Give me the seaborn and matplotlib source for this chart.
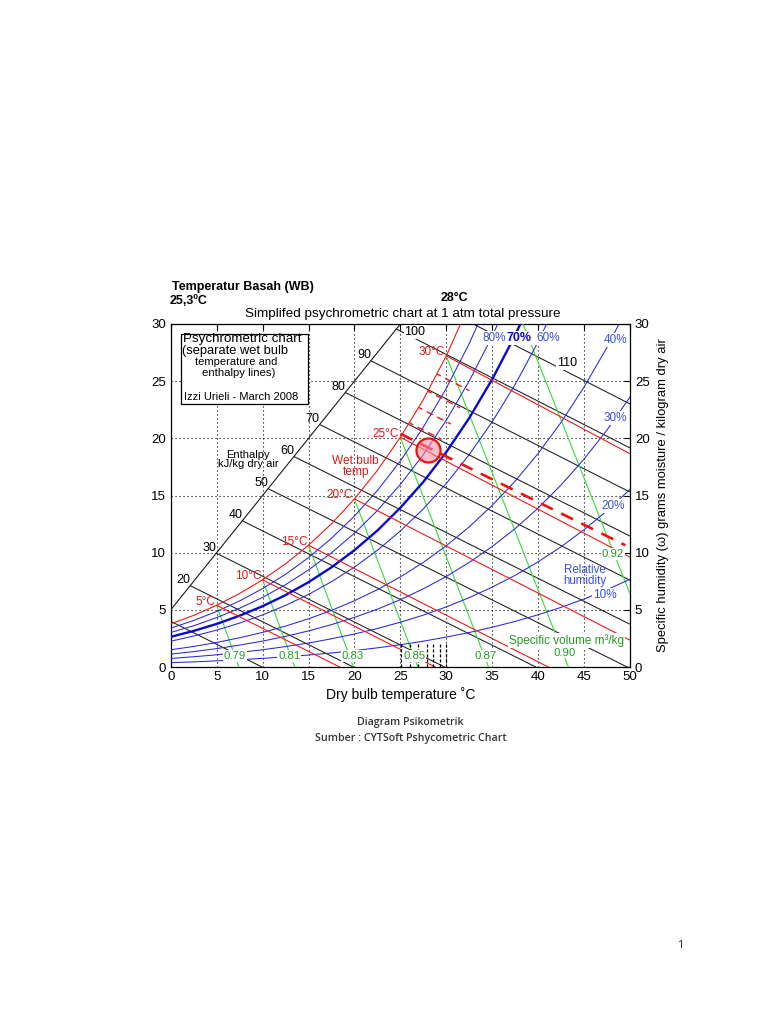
import matplotlib
matplotlib.use("Agg")
import matplotlib.pyplot as plt
import seaborn as sns
from matplotlib.patches import Rectangle

# ---------------- data ----------------
# dry-bulb grid (deg C) used for the saturation / relative-humidity curves
T_GRID = [0, 2.5, 5, 7.5, 10, 12.5, 15, 17.5, 20, 22.5, 25,
          27.5, 30, 32.5, 35, 37.5, 40, 42.5, 45, 47.5, 50]

# saturation curve (g/kg) on T_GRID, then reaches the top (30 g/kg) at SAT_TOP_T
SAT_W = [3.78, 4.52, 5.40, 6.43, 7.63, 9.03, 10.65, 12.53, 14.70, 17.20, 20.09, 23.39, 27.21]
SAT_TOP_T = 31.55

# relative humidity curves (g/kg) on T_GRID
RH_LEVELS = [90, 80, 70, 60, 40, 30, 20, 10]
RH90_W = [3.40, 4.07, 4.86, 5.78, 6.86, 8.11, 9.57, 11.26, 13.20, 15.44, 18.02, 20.97, 24.38, 28.29]
RH80_W = [3.02, 3.61, 4.32, 5.14, 6.09, 7.20, 8.49, 9.99, 11.70, 13.69, 15.97, 18.57, 21.58, 25.02, 28.93]
RH70_W = [2.64, 3.16, 3.77, 4.49, 5.32, 6.29, 7.42, 8.72, 10.22, 11.94, 13.93, 16.19, 18.80, 21.78,
          25.17, 29.02]
RH60_W = [2.26, 2.71, 3.23, 3.84, 4.56, 5.39, 6.35, 7.46, 8.74, 10.21, 11.90, 13.83, 16.05, 18.58,
          21.45, 24.71, 28.44]
RH40_W = [1.51, 1.80, 2.15, 2.56, 3.03, 3.58, 4.22, 4.95, 5.80, 6.77, 7.88, 9.15, 10.61, 12.26,
          14.14, 16.26, 18.68, 21.40, 24.49, 27.96]
RH30_W = [1.13, 1.35, 1.61, 1.92, 2.27, 2.68, 3.16, 3.71, 4.34, 5.06, 5.89, 6.84, 7.92, 9.15,
          10.54, 12.11, 13.90, 15.92, 18.19, 20.73, 23.61]
RH20_W = [0.75, 0.90, 1.07, 1.28, 1.51, 1.79, 2.10, 2.47, 2.89, 3.37, 3.92, 4.54, 5.26, 6.07,
          6.99, 8.02, 9.20, 10.52, 12.01, 13.67, 15.54]
RH10_W = [0.38, 0.45, 0.54, 0.64, 0.76, 0.89, 1.05, 1.23, 1.44, 1.68, 1.95, 2.26, 2.62, 3.02,
          3.48, 3.99, 4.57, 5.22, 5.95, 6.76, 7.68]
RH_TOP_T = [33.45, 35.6, 38.06, 40.92, 48.8, None, None, None]

# enthalpy lines (kJ/kg dry air): start / end points
ENTH_H = [10, 20, 30, 40, 50, 60, 70, 80, 90, 100, 110]
ENTH_T0 = [0.0, 2.12, 4.96, 7.79, 10.60, 13.41, 16.21, 19.01, 21.79, 24.56, 32.93]
ENTH_W0 = [4.00, 7.12, 9.96, 12.79, 15.60, 18.41, 21.21, 24.01, 26.79, 29.56, 30.0]
ENTH_T1 = [9.94, 19.88, 29.82, 39.76, 49.70, 50, 50, 50, 50, 50, 50]
ENTH_W1 = [0, 0, 0, 0, 0, 3.74, 7.59, 11.45, 15.30, 19.16, 23.01]
# enthalpy scale line
ENTH_SCALE_T = [0, 25]
ENTH_SCALE_W = [5, 30]

# wet bulb lines (deg C)
WB_T = [5, 10, 15, 20, 25, 30]
WB_W0 = [5.40, 7.63, 10.65, 14.70, 20.09, 27.21]
WB_T1 = [18.4, 28.8, 41.1, 50, 50, 50]
WB_W1 = [0, 0, 0, 2.35, 9.61, 18.65]
# short minor wet bulb lines between 25 and 30 deg C
WBMIN_T0 = [26, 27, 28, 29]
WBMIN_W0 = [21.35, 22.70, 24.12, 25.62]
WBMIN_T1 = [29.5, 30.5, 31.5, 32.5]
WBMIN_W1 = [19.90, 21.25, 22.67, 24.17]

# specific volume lines (m3/kg)
VOL_LABELS = ["0.79", "0.81", "0.83", "0.85", "0.87", "0.90", "0.92"]
VOL_T0 = [5, 10, 15, 20, 25, 30, 38.35]
VOL_W0 = [5.40, 7.63, 10.65, 14.70, 20.09, 27.21, 30.0]
VOL_T1 = [7.42, 13.5, 19.9, 26.9, 34.6, 43.3, 50]
VOL_W1 = [0, 0, 0, 0, 0, 0, 6.4]

# annotations added on the chart (state point 28 C dry bulb, 25.3 C wet bulb)
MARK_DB = 28.0
MARK_W = 19.0
MARK_WB_T = [25.0, 49.5]
MARK_WB_W = [20.4, 10.65]
DB_TICK_T = [25.1, 26.0, 26.9, 27.9, 28.6, 29.3, 30.0]
DB_TICK_H = 2.0

X_TICKS = [0, 5, 10, 15, 20, 25, 30, 35, 40, 45, 50]
Y_TICKS = [0, 5, 10, 15, 20, 25, 30]

# ---------------- style ----------------
sns.set_theme(style="white", rc={
    "axes.edgecolor": "black", "text.color": "black", "axes.labelcolor": "black",
    "xtick.color": "black", "ytick.color": "black",
})
plt.rcParams["font.family"] = ["Liberation Sans", "DejaVu Sans"]

BLUE = "#2626dc"
BLUE_THICK = "#0808d6"
RED = "#f01818"
GREEN = "#40dc40"
BLACK = "#1a1a1a"
BLUE_TXT = "#3a4ee6"
GREEN_TXT = "#239a23"
RED_TXT = "#e01818"

fig = plt.figure(figsize=(7.68, 10.24), dpi=100)
ax = fig.add_axes([0.2223, 0.3486, 0.598, 0.3350])


def line(xs, ys, **kw):
    sns.lineplot(x=list(xs), y=list(ys), ax=ax, sort=False, estimator=None,
                 legend=False, **kw)


white_box = dict(boxstyle="square,pad=0.08", fc="white", ec="none")

# enthalpy scale + enthalpy lines
line(ENTH_SCALE_T, ENTH_SCALE_W, color=BLACK, linewidth=0.8, zorder=3)
for h, t0, w0, t1, w1 in zip(ENTH_H, ENTH_T0, ENTH_W0, ENTH_T1, ENTH_W1):
    line([t0, t1], [w0, w1], color=BLACK, linewidth=0.75, zorder=3)
    if 20 <= h <= 90:
        ax.annotate(str(h), (t0, w0), xytext=(-5, 4), textcoords="offset points",
                    ha="center", va="center", fontsize=9, color="black", zorder=6)
ax.text(26.6, 29.3, "100", ha="center", va="center", fontsize=9, bbox=white_box, zorder=6)
ax.text(43.2, 26.6, "110", ha="center", va="center", fontsize=9, bbox=white_box, zorder=6)
ax.text(8.4, 18.15, "Enthalpy\nkJ/kg dry air", ha="center", va="center", fontsize=8.0,
        linespacing=0.95, zorder=6)

# relative humidity curves
rh_series = [RH90_W, RH80_W, RH70_W, RH60_W, RH40_W, RH30_W, RH20_W, RH10_W]
for level, w, top in zip(RH_LEVELS, rh_series, RH_TOP_T):
    xs = T_GRID[:len(w)]
    ys = list(w)
    if top is not None:
        xs = xs + [top]
        ys = ys + [30.0]
    if level == 70:
        line(xs, ys, color=BLUE_THICK, linewidth=1.7, zorder=4)
    else:
        line(xs, ys, color=BLUE, linewidth=0.75, zorder=4)

rh_text = [("80%", 35.2, 28.8, "normal"), ("70%", 37.94, 28.8, "bold"),
           ("60%", 41.07, 28.8, "normal"), ("40%", 48.44, 28.57, "normal"),
           ("30%", 48.44, 21.78, "normal"), ("20%", 48.2, 14.07, "normal"),
           ("10%", 47.28, 6.34, "normal")]
for s, x, y, wt in rh_text:
    ax.text(x, y, s, ha="center", va="center", fontsize=8.5 if wt == "normal" else 9,
            fontweight=wt, color=BLUE_TXT if wt == "normal" else BLUE_THICK,
            bbox=white_box, zorder=7)
ax.text(45.1, 8.0, "Relative\nhumidity", ha="center", va="center", fontsize=8.3,
        color=BLUE_TXT, linespacing=0.95, zorder=7)

# saturation curve + wet bulb lines
line(T_GRID[:len(SAT_W)] + [SAT_TOP_T], SAT_W + [30.0], color=RED, linewidth=0.8, zorder=4)
for t0, w0, t1, w1 in zip(WB_T, WB_W0, WB_T1, WB_W1):
    line([t0, t1], [w0, w1], color=RED, linewidth=0.8, zorder=4)
    ax.annotate(f"{t0}°C", (t0, w0), xytext=(-1, 2.5), textcoords="offset points",
                ha="right", va="center", fontsize=8.5, color=RED_TXT, zorder=6)
for t0, w0, t1, w1 in zip(WBMIN_T0, WBMIN_W0, WBMIN_T1, WBMIN_W1):
    line([t0, t1], [w0, w1], color=RED, linewidth=1.0, linestyle=(2, (5, 3.5)), zorder=4)
ax.text(20.15, 17.5, "Wet bulb\ntemp", ha="center", va="center", fontsize=8.6,
        color=RED_TXT, linespacing=0.9, zorder=6)

# specific volume lines
for t0, w0, t1, w1 in zip(VOL_T0, VOL_W0, VOL_T1, VOL_W1):
    line([t0, t1], [w0, w1], color=GREEN, linewidth=0.85, zorder=3.5)
vol_pos = [(7.0, 0.95), (12.9, 0.95), (19.83, 0.98), (26.5, 0.98), (34.3, 0.98),
           (42.84, 1.27), (48.1, 9.89)]
for s, (x, y) in zip(VOL_LABELS, vol_pos):
    ax.text(x, y, s, ha="center", va="center", fontsize=8.2, color=GREEN_TXT,
            bbox=white_box, zorder=7)
ax.text(43.1, 2.29, "Specific volume m³/kg", ha="center", va="center", fontsize=8.5,
        color=GREEN_TXT, bbox=white_box, zorder=7)

# annotations drawn on top of the chart
line(MARK_WB_T, MARK_WB_W, color="#ee1111", linewidth=1.9, linestyle=(0, (5, 3.5)), zorder=8)
sns.scatterplot(x=[MARK_DB], y=[MARK_W], ax=ax, s=300, color=(1.0, 0.55, 0.62, 0.55),
                edgecolor="#ee1111", linewidth=1.6, zorder=9, legend=False)
for t in DB_TICK_T:
    line([t, t], [0, DB_TICK_H], color="black", linewidth=0.9, linestyle=(0, (2.5, 1.5)), zorder=5)

# legend box
ax.add_patch(Rectangle((1.09, 22.98), 13.89, 6.15, facecolor="white", edgecolor="black",
                       linewidth=0.9, zorder=10))
legend_lines = [("Psychrometric chart", 7.82, 28.70, 9.6), ("(separate wet bulb", 7.04, 27.65, 9.3),
                ("temperature and", 7.09, 26.71, 8.0), ("enthalpy lines)", 7.42, 25.72, 8.2),
                ("Izzi Urieli - March 2008", 7.69, 23.62, 8.0)]
for s, x, y, fs in legend_lines:
    ax.text(x, y, s, ha="center", va="center", fontsize=fs, zorder=11)

# axes
ax.set_xlim(0, 50)
ax.set_ylim(0, 30)
ax.set_xticks(X_TICKS)
ax.set_yticks(Y_TICKS)
ax.grid(True, color="black", linestyle=(0, (1, 2.6)), linewidth=0.8, zorder=1)
ax.set_axisbelow(True)
ax.tick_params(axis="both", direction="in", length=4, width=0.8, labelsize=9.5,
               top=True, right=True, labelright=True, colors="black")
ax.tick_params(axis="x", pad=3)
ax.tick_params(axis="y", pad=3.5)
for sp in ax.spines.values():
    sp.set_color("black")
    sp.set_linewidth(0.9)
ax.set_xlabel("Dry bulb temperature ˚C", fontsize=10, labelpad=2.5)
ax.yaxis.set_label_position("right")
ax.set_ylabel("Specific humidity (ω) grams moisture / kilogram dry air", fontsize=9.4,
              labelpad=5)

# texts around the chart
fig.text(402.5 / 768, 1 - 314 / 1024, "Simplifed psychrometric chart at 1 atm total pressure",
         ha="center", va="center", fontsize=9.7)
fig.text(171.7 / 768, 1 - 287 / 1024, "Temperatur Basah (WB)", ha="left", va="center",
         fontsize=9, fontweight="bold")
fig.text(170 / 768, 1 - 301 / 1024, "25,3ºC", ha="left", va="center", fontsize=9,
         fontweight="bold")
fig.text(454.2 / 768, 1 - 298.3 / 1024, "28°C", ha="center", va="center", fontsize=9,
         fontweight="bold")
fig.text(410.8 / 768, 1 - 722.5 / 1024, "Diagram Psikometrik", ha="center", va="center",
         fontsize=7.6, fontweight="semibold", color="#333333", family=["Open Sans", "DejaVu Sans"])
fig.text(410.8 / 768, 1 - 738 / 1024, "Sumber : CYTSoft Pshycometric Chart", ha="center",
         va="center", fontsize=7.7, fontweight="semibold", color="#333333",
         family=["Open Sans", "DejaVu Sans"])
fig.text(680 / 768, 1 - 945 / 1024, "1", ha="center", va="center", fontsize=8,
         color="#222222", family=["Open Sans", "DejaVu Sans"])

fig.savefig("out.png", dpi=100, facecolor="white")
